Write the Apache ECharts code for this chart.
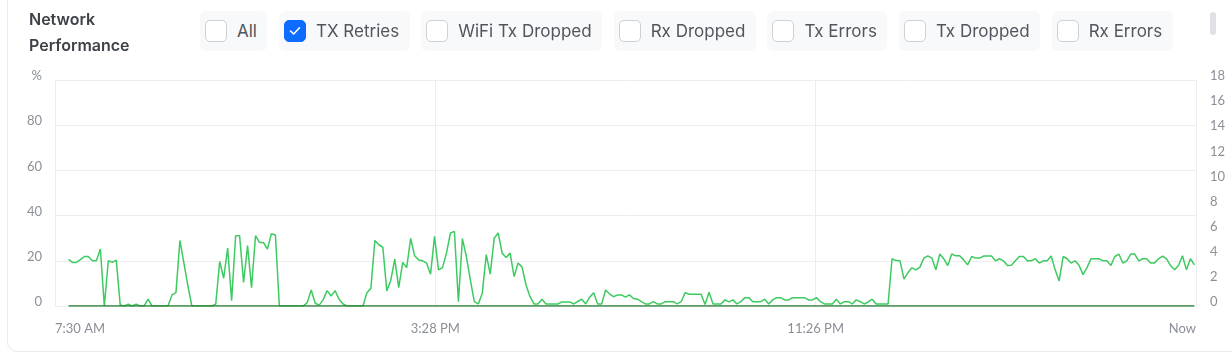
<!DOCTYPE html>
<html>
<head>
<meta charset="utf-8">
<title>Network Performance</title>
<script src="https://cdn.jsdelivr.net/npm/echarts@6/dist/echarts.min.js"></script>
<style>
  html, body { margin: 0; padding: 0; background: #fff; }
  body { width: 1232px; height: 354px; position: relative; overflow: hidden; font-family: Inter, "Noto Sans", sans-serif; }
  .card { position: absolute; left: 7px; top: -20px; width: 1260px; height: 372px; border: 1px solid #e9eaec; border-radius: 10px; box-sizing: border-box; }
  #chart { position: absolute; left: 0; top: 0; width: 1232px; height: 354px; }
  .title { position: absolute; left: 29px; top: 6px; font-size: 16px; font-weight: 600; line-height: 26px; color: #3d4249; }
  .filters { position: absolute; left: 200px; top: 11px; display: flex; gap: 11.5px; }
  .pill { height: 40px; display: flex; align-items: center; padding: 0 10.5px 0 5px; background: #f8f9fa; border-radius: 6px; font-size: 17px; color: #50565e; white-space: nowrap; }
  .box { width: 22px; height: 22px; box-sizing: border-box; border: 1.5px solid #cdd0d5; border-radius: 5px; background: #fff; margin-right: 10px; display: flex; align-items: center; justify-content: center; }
  .box.on { background: #0b6cff; border-color: #0b6cff; }
  .scroll { position: absolute; left: 1210px; top: 12px; width: 6px; height: 23px; border-radius: 3px; background: #dfe1e4; }
</style>
</head>
<body>
<div class="card"></div>
<div id="chart"></div>
<div class="title">Network<br>Performance</div>
<div class="filters" id="filters"></div>
<div class="scroll"></div>
<script>
// Metric toggles shown above the chart; only TX Retries is active.
const metricNames = ['All', 'TX Retries', 'WiFi Tx Dropped', 'Rx Dropped', 'Tx Errors', 'Tx Dropped', 'Rx Errors'];
const activeMetrics = ['TX Retries'];

// X axis: minutes since 7:30 AM, with its four time labels.
const xTickValues = [0, 478, 956, 1434];
const xTickLabels = ['7:30 AM', '3:28 PM', '11:26 PM', 'Now'];

// Samples: first sample minute and spacing between samples.
const sampleStartMinute = 17;
const sampleStepMinutes = 5;

// TX Retries (%), one value per sample.
const txRetries = [
  20.7, 19.3, 19.3, 20.5, 21.9, 21.9, 20, 20, 25.2, 0,
  20, 19.3, 20.3, 0.4, 0, 0.8, 0, 0.8, 0, 0,
  3, 0, 0, 0, 0, 0, 4.9, 5.9, 29, 19,
  9, 0, 0, 0, 0, 0, 0, 0.8, 19.7, 12.3,
  25.6, 2.4, 31.1, 31.1, 10.4, 26.7, 8.1, 31.1, 28.1, 28.1,
  25.2, 32, 31.4, 0, 0, 0, 0, 0, 0, 0,
  1.5, 7.1, 1.2, 0.4, 2.7, 6.8, 4.4, 6.8, 3, 0.9,
  0, 0, 0, 0, 0, 5.9, 7.8, 29, 27.1, 26,
  6.7, 11.3, 20.7, 8.1, 19.3, 17, 29.9, 22.2, 20.4, 20,
  19, 14.1, 30.8, 16, 17, 23.4, 32.3, 33, 1.9, 29.8,
  21.9, 11.6, 1.9, 0.9, 5.6, 22.7, 14.1, 30, 32.3, 23.4,
  21.5, 23.4, 13, 19, 17.2, 9.3, 4.1, 0.9, 0.9, 3,
  0.9, 0.9, 0.9, 0.9, 1.8, 1.8, 1.8, 0.9, 2, 3,
  0.9, 3.9, 5.9, 0.9, 0.9, 7.1, 5.3, 4.1, 4.9, 4.9,
  3.9, 4.9, 3.3, 3, 1.9, 0.9, 0.9, 1.9, 0.9, 0.9,
  1.9, 1.9, 1.9, 0.9, 1.9, 5.9, 5.2, 5.2, 5.2, 5.2,
  0.7, 6.1, 0.9, 0.9, 0.9, 2.7, 1.8, 2.7, 0.9, 1.9,
  3.7, 3.7, 1.9, 1.9, 1.9, 3, 0.9, 2.7, 3.7, 3.7,
  2.7, 2.7, 3.7, 3.7, 3.7, 3.7, 2.7, 2.7, 3.7, 1.9,
  0.9, 0.9, 0.9, 3, 0.9, 1.9, 1.9, 0.9, 2.7, 1.9,
  0.9, 1.8, 3, 0.9, 0.9, 0.9, 0.9, 20.9, 20.1, 20,
  11.9, 14.8, 16.9, 16, 17.2, 21.2, 22.2, 21.2, 16, 23,
  20.9, 17.9, 23, 22.2, 22.2, 20.4, 18.2, 21.9, 21.2, 21.2,
  22.1, 22.1, 22.1, 20, 20.9, 20, 17.9, 18, 20, 21.9,
  21.9, 20, 20, 20.9, 19, 20, 20, 22.1, 16, 11.1,
  21.9, 20.9, 19, 20, 18, 13.9, 17, 20.9, 20.9, 20.9,
  20, 20, 17.9, 21.9, 23, 19, 20, 23, 23, 20,
  20.9, 20.9, 19, 19, 20.9, 22.1, 20.9, 17.9, 16, 17.9,
  22.2, 16, 20.9, 18.2
];

// Secondary count series (right axis): flat at zero over the whole window.
const countValues = [0, 0];

// Left (%) and right (count) axis ranges.
const leftAxis = { min: 0, max: 100, interval: 20 };
const rightAxis = { min: 0, max: 18, interval: 2 };

// Build the filter pills.
const filters = document.getElementById('filters');
metricNames.forEach(name => {
  const pill = document.createElement('div');
  pill.className = 'pill';
  const box = document.createElement('div');
  const on = activeMetrics.includes(name);
  box.className = on ? 'box on' : 'box';
  if (on) {
    box.innerHTML = '<svg width="12" height="10" viewBox="0 0 12 10"><polyline points="1.5,5 4.6,8 10.5,1.8" fill="none" stroke="#fff" stroke-width="1.6" stroke-linecap="round" stroke-linejoin="round"/></svg>';
  }
  const label = document.createElement('span');
  label.textContent = name;
  pill.appendChild(box);
  pill.appendChild(label);
  filters.appendChild(pill);
});

const sampleMinute = i => sampleStartMinute + i * sampleStepMinutes;
const retriesData = txRetries.map((v, i) => [sampleMinute(i), v]);
const countData = [
  [sampleMinute(0), countValues[0]],
  [sampleMinute(txRetries.length - 1), countValues[1]]
];

const axisText = { color: '#8a8f98', fontSize: 13, fontFamily: 'Lato, "Noto Sans", sans-serif' };
const gridColor = '#ebedef';

const chart = echarts.init(document.getElementById('chart'), null, { renderer: 'canvas' });
chart.setOption({
  animation: false,
  grid: { left: 55, right: 36, top: 80, bottom: 48, containLabel: false },
  xAxis: {
    type: 'value',
    min: xTickValues[0],
    max: xTickValues[xTickValues.length - 1],
    interval: xTickValues[1] - xTickValues[0],
    axisLine: { show: false },
    axisTick: { show: false },
    splitLine: { show: true, lineStyle: { color: gridColor, width: 1 } },
    axisLabel: Object.assign({}, axisText, {
      margin: 16,
      alignMinLabel: 'left',
      alignMaxLabel: 'right',
      formatter: v => {
        const k = xTickValues.indexOf(v);
        return k >= 0 ? xTickLabels[k] : '';
      }
    })
  },
  yAxis: [
    {
      type: 'value',
      position: 'left',
      min: leftAxis.min, max: leftAxis.max, interval: leftAxis.interval,
      axisLine: { show: false },
      axisTick: { show: false },
      splitLine: { show: true, lineStyle: { color: gridColor, width: 1 } },
      axisLabel: Object.assign({}, axisText, {
        margin: 13,
        verticalAlign: 'bottom',
        lineHeight: 8,
        formatter: v => (v === leftAxis.max ? '%' : String(v))
      })
    },
    {
      type: 'value',
      position: 'right',
      min: rightAxis.min, max: rightAxis.max, interval: rightAxis.interval,
      axisLine: { show: false },
      axisTick: { show: false },
      splitLine: { show: false },
      axisLabel: Object.assign({}, axisText, {
        margin: 14,
        verticalAlign: 'bottom',
        lineHeight: 8
      })
    }
  ],
  series: [
    {
      name: 'TX Retries',
      type: 'line',
      yAxisIndex: 0,
      data: retriesData,
      showSymbol: false,
      symbol: 'none',
      lineStyle: { color: '#3dca60', width: 1.5 },
      z: 2
    },
    {
      name: 'Count',
      type: 'line',
      yAxisIndex: 1,
      data: countData,
      showSymbol: false,
      symbol: 'none',
      lineStyle: { color: '#2a7d35', width: 1.5 },
      z: 3
    }
  ]
});
</script>
</body>
</html>
